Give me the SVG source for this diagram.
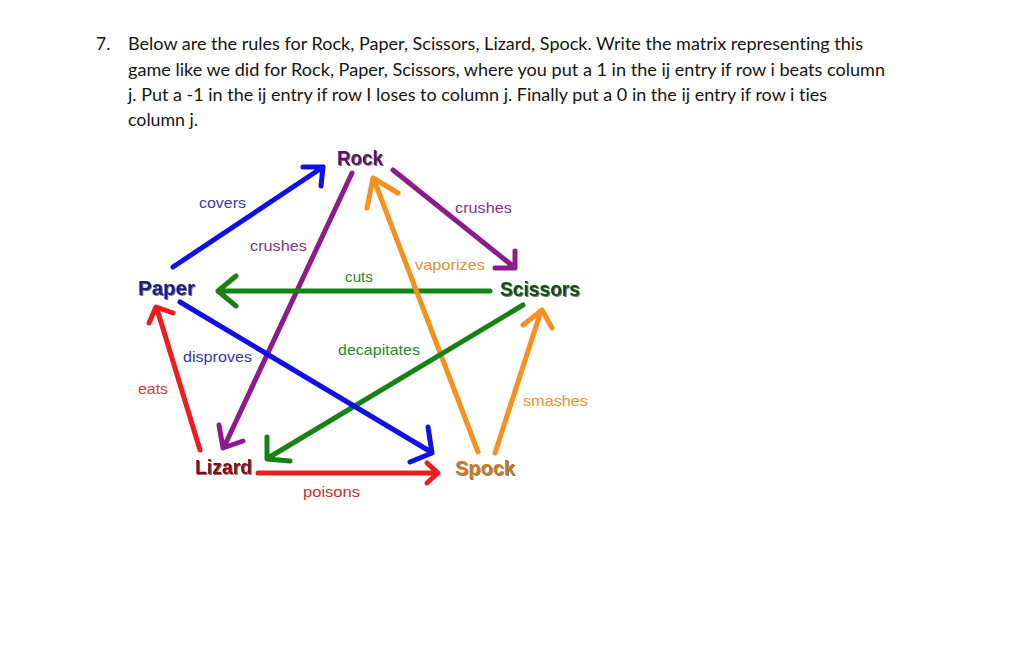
<svg xmlns="http://www.w3.org/2000/svg" width="1016" height="658" viewBox="0 0 1016 658">
<style>
.q{font-family:Lato,"Liberation Sans",sans-serif;font-size:17.5px;fill:#151515;font-variant-ligatures:none}
.n{font-family:"Liberation Sans",Arial,sans-serif;font-weight:bold;font-size:21px;filter:url(#sh)}
.l{font-family:"Liberation Sans",Arial,sans-serif;font-size:15px}
.c{fill:none;stroke-width:5;stroke-linecap:round;stroke-linejoin:round}
.blue{stroke:#1010ea}.purple{stroke:#8c1c8c}.green{stroke:#168216}.orange{stroke:#f7901e}.red{stroke:#ee1c1c}
</style>
<defs>
<filter id="sh" x="-10%" y="-20%" width="130%" height="150%">
<feDropShadow dx="1" dy="1" stdDeviation="0.6" flood-color="#000" flood-opacity="0.55"/>
</filter>
</defs>
<rect width="1016" height="658" fill="#fff"/>
<g id="question">
<text class="q" x="96" y="50">7.</text>
<text class="q" x="128" y="50" textLength="735" lengthAdjust="spacingAndGlyphs">Below are the rules for Rock, Paper, Scissors, Lizard, Spock. Write the matrix representing this</text>
<text class="q" x="128" y="75.5" textLength="757" lengthAdjust="spacingAndGlyphs">game like we did for Rock, Paper, Scissors, where you put a 1 in the ij entry if row i beats column</text>
<text class="q" x="128" y="101" textLength="699" lengthAdjust="spacingAndGlyphs">j. Put a -1 in the ij entry if row I loses to column j. Finally put a 0 in the ij entry if row i ties</text>
<text class="q" x="128" y="126" textLength="70" lengthAdjust="spacingAndGlyphs">column j.</text>
</g>
<g id="connectors">
<path class="c blue" d="M173,267 L323,167 M303,167 L323,167 L321,186"/>
<text class="l" x="199" y="208" fill="#3a3ab4" textLength="47" lengthAdjust="spacingAndGlyphs">covers</text>
<path class="c purple" d="M352,173 L224,447 M219,425 L223,448 L243,441"/>
<text class="l" x="250" y="251" fill="#8a3090" textLength="57" lengthAdjust="spacingAndGlyphs">crushes</text>
<path class="c green" d="M490,291 L218,291 M236,276 L218,291 L236,306"/>
<text class="l" x="345" y="282" fill="#2a8a2a" textLength="28" lengthAdjust="spacingAndGlyphs">cuts</text>
<path class="c orange" d="M478,452 L374,180 M367,208 L373,178 L398,193"/>
<text class="l" x="415" y="270" fill="#e8902a" textLength="70" lengthAdjust="spacingAndGlyphs">vaporizes</text>
<path class="c purple" d="M393,170 L514,267 M495,268 L515,268 L515,251"/>
<text class="l" x="455" y="213" fill="#8a3090" textLength="57" lengthAdjust="spacingAndGlyphs">crushes</text>
<path class="c green" d="M523,305 L268,458 M267,437 L267,459 L290,461"/>
<text class="l" x="338" y="355" fill="#2a8a2a" textLength="82" lengthAdjust="spacingAndGlyphs">decapitates</text>
<path class="c blue" d="M180,302 L431,452 M428,427 L432,453 L410,462"/>
<text class="l" x="183" y="362" fill="#3535a8" textLength="69" lengthAdjust="spacingAndGlyphs">disproves</text>
<path class="c red" d="M200,450 L157,309 M149,323 L156,307 L173,313"/>
<text class="l" x="138" y="394" fill="#d83a3a" textLength="30" lengthAdjust="spacingAndGlyphs">eats</text>
<path class="c red" d="M258,473 L437,473 M427,463 L438,473 L427,483"/>
<text class="l" x="303" y="497" fill="#c83030" textLength="57" lengthAdjust="spacingAndGlyphs">poisons</text>
<path class="c orange" d="M495,453 L541,311 M523,325 L542,310 L552,328"/>
<text class="l" x="523" y="406" fill="#f0902a" textLength="65" lengthAdjust="spacingAndGlyphs">smashes</text>
</g>
<g id="rock"><text class="n" x="337" y="165" fill="#5c1460" textLength="46" lengthAdjust="spacingAndGlyphs">Rock</text></g>
<g id="paper"><text class="n" x="138" y="295" fill="#1a1a82" textLength="57" lengthAdjust="spacingAndGlyphs">Paper</text></g>
<g id="scissors"><text class="n" x="500" y="296" fill="#0c520c" textLength="80" lengthAdjust="spacingAndGlyphs">Scissors</text></g>
<g id="lizard"><text class="n" x="195" y="474" fill="#8a1010" textLength="57" lengthAdjust="spacingAndGlyphs">Lizard</text></g>
<g id="spock"><text class="n" x="455" y="475" fill="#c87a20" textLength="60" lengthAdjust="spacingAndGlyphs">Spock</text></g>
</svg>
